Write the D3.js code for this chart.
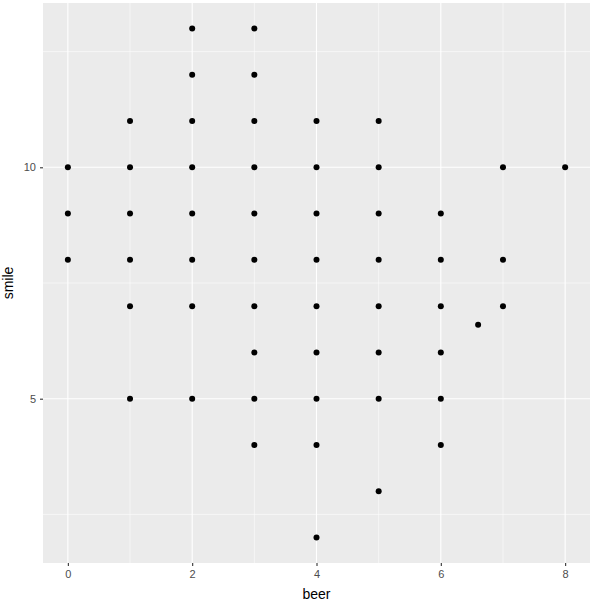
<!DOCTYPE html>
<html>
  <head>
    <meta charset="utf-8">
    <script src="https://d3js.org/d3.v7.min.js"></script>
    <style>
    body { margin: 0; background: #fff; }
    .tick text { font-family: Arial, "Liberation Sans", sans-serif; font-size: 11px; fill: #4d4d4d; }
    .label { font-family: Arial, "Liberation Sans", sans-serif; font-size: 14px; fill: #000; }
    </style>
  </head>
  <body>
    <script>

    // smile scores, one entry per point
    var beer  = [0, 0, 0,
                 1, 1, 1, 1, 1, 1,
                 2, 2, 2, 2, 2, 2, 2, 2,
                 3, 3, 3, 3, 3, 3, 3, 3, 3, 3,
                 4, 4, 4, 4, 4, 4, 4, 4, 4,
                 5, 5, 5, 5, 5, 5, 5, 5,
                 6, 6, 6, 6, 6, 6,
                 6.6,
                 7, 7, 7,
                 8];
    var smile = [10, 9, 8,
                 11, 10, 9, 8, 7, 5,
                 13, 12, 11, 10, 9, 8, 7, 5,
                 13, 12, 11, 10, 9, 8, 7, 6, 5, 4,
                 11, 10, 9, 8, 7, 6, 5, 4, 2,
                 11, 10, 9, 8, 7, 6, 5, 3,
                 9, 8, 7, 6, 5, 4,
                 6.6,
                 10, 8, 7,
                 10];
    var xTicks = [0, 2, 4, 6, 8];
    var yTicks = [5, 10];

    var data = beer.map(function(b, i) { return {beer: b, smile: smile[i]}; });

    var margin = {top: 3, right: 5, bottom: 40, left: 43};
    var width = 595 - margin.left - margin.right;
    var height = 603 - margin.top - margin.bottom;

    var x = d3.scaleLinear().domain([-0.4, 8.4]).range([0, width]);
    var y = d3.scaleLinear().domain([1.45, 13.55]).range([height, 0]);

    var svg = d3.select("body")
      .append("svg")
        .attr("width", 595)
        .attr("height", 603)
      .append("g")
        .attr("transform", "translate(" + margin.left + "," + margin.top + ")");

    svg.append("rect")
        .attr("width", width)
        .attr("height", height)
        .style("fill", "#ebebeb");

    // minor grid
    svg.selectAll("vminor")
        .data([1, 3, 5, 7])
        .enter().append("line")
        .attr("x1", function(d) { return x(d); })
        .attr("x2", function(d) { return x(d); })
        .attr("y1", 0).attr("y2", height)
        .style("stroke", "#fff").style("stroke-width", 0.55);
    svg.selectAll("hminor")
        .data([2.5, 7.5, 12.5])
        .enter().append("line")
        .attr("y1", function(d) { return y(d); })
        .attr("y2", function(d) { return y(d); })
        .attr("x1", 0).attr("x2", width)
        .style("stroke", "#fff").style("stroke-width", 0.55);

    // major grid
    svg.selectAll("vmajor")
        .data(xTicks)
        .enter().append("line")
        .attr("x1", function(d) { return x(d); })
        .attr("x2", function(d) { return x(d); })
        .attr("y1", 0).attr("y2", height)
        .style("stroke", "#fff").style("stroke-width", 1.1);
    svg.selectAll("hmajor")
        .data(yTicks)
        .enter().append("line")
        .attr("y1", function(d) { return y(d); })
        .attr("y2", function(d) { return y(d); })
        .attr("x1", 0).attr("x2", width)
        .style("stroke", "#fff").style("stroke-width", 1.1);

    var xAxis = d3.axisBottom(x).tickValues(xTicks).tickSize(3).tickPadding(4);
    var yAxis = d3.axisLeft(y).tickValues(yTicks).tickSize(3).tickPadding(4);

    var gx = svg.append("g")
        .attr("transform", "translate(0," + height + ")")
        .call(xAxis);
    var gy = svg.append("g").call(yAxis);
    [gx, gy].forEach(function(g) {
      g.select(".domain").remove();
      g.selectAll(".tick line").style("stroke", "#333").style("stroke-width", 1.1);
    });

    svg.append("text")
        .attr("class", "label")
        .attr("x", width / 2)
        .attr("y", height + 36)
        .style("text-anchor", "middle")
        .text("beer");

    svg.append("text")
        .attr("class", "label")
        .attr("transform", "rotate(-90)")
        .attr("x", -height / 2)
        .attr("y", -30)
        .style("text-anchor", "middle")
        .text("smile");

    svg.selectAll("dot")
        .data(data)
        .enter().append("circle")
        .attr("cx", function(d) { return x(d.beer); })
        .attr("cy", function(d) { return y(d.smile); })
        .attr("r", 3)
        .style("fill", "#000");

    </script>
  </body>
</html>
